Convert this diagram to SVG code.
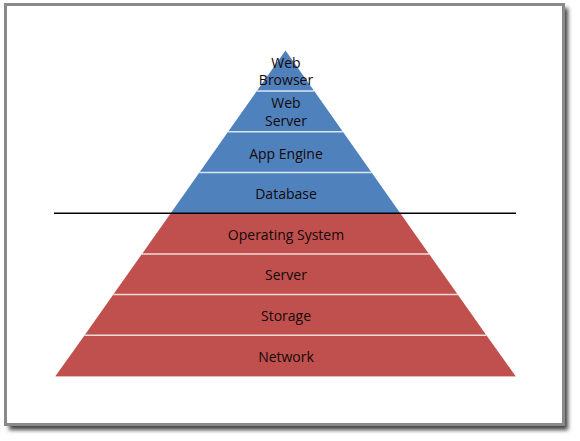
<svg xmlns="http://www.w3.org/2000/svg" width="580" height="441" viewBox="0 0 580 441">
  <style>
    .lbl { font-family: "Open Sans", "Liberation Sans", sans-serif; font-size: 14px; fill: #140808; text-anchor: middle; }
    .blue { fill: #4F81BD; }
    .red { fill: #C0504D; }
    .sep { stroke: #F2DCDB; stroke-width: 1.5; }
    .sepb { stroke: #DCE6F2; stroke-width: 1.5; }
  </style>
  <defs>
    <filter id="shadow" x="-5%" y="-5%" width="115%" height="115%">
      <feGaussianBlur stdDeviation="2"/>
    </filter>
  </defs>
  <rect x="0" y="0" width="580" height="441" fill="#ffffff"/>
  <g id="frame">
    <rect x="9" y="8" width="559" height="422" fill="#444" filter="url(#shadow)"/>
    <rect x="5.5" y="4.5" width="558" height="420" fill="#ffffff" stroke="#8a8a8a" stroke-width="3"/>
  </g>
  <g id="pyramid">
    <g id="web-browser">
      <polygon class="blue" points="285.5,50.4 314.2,91.1 256.8,91.1"/>
      <text class="lbl" x="286" y="67.5">Web</text>
      <text class="lbl" x="286" y="85">Browser</text>
    </g>
    <g id="web-server">
      <polygon class="blue" points="256.8,91.1 314.2,91.1 342.9,131.8 228.1,131.8"/>
      <text class="lbl" x="286" y="108">Web</text>
      <text class="lbl" x="286" y="125.5">Server</text>
    </g>
    <g id="app-engine">
      <polygon class="blue" points="228.1,131.8 342.9,131.8 371.6,172.5 199.4,172.5"/>
      <text class="lbl" x="286" y="158.5">App Engine</text>
    </g>
    <g id="database">
      <polygon class="blue" points="199.4,172.5 371.6,172.5 400.3,213.2 170.7,213.2"/>
      <text class="lbl" x="286" y="198.5">Database</text>
    </g>
    <g id="operating-system">
      <polygon class="red" points="170.7,213.2 400.3,213.2 429,253.9 142,253.9"/>
      <text class="lbl" x="286" y="239.5">Operating System</text>
    </g>
    <g id="server">
      <polygon class="red" points="142,253.9 429,253.9 457.7,294.6 113.3,294.6"/>
      <text class="lbl" x="286" y="280">Server</text>
    </g>
    <g id="storage">
      <polygon class="red" points="113.3,294.6 457.7,294.6 486.4,335.3 84.6,335.3"/>
      <text class="lbl" x="286" y="321">Storage</text>
    </g>
    <g id="network">
      <polygon class="red" points="84.6,335.3 486.4,335.3 515.5,376 55.5,376"/>
      <text class="lbl" x="286" y="361.5">Network</text>
    </g>
  </g>
  <g id="connectors">
    <line class="sepb" x1="256.8" y1="91.1" x2="314.2" y2="91.1"/>
    <line class="sepb" x1="228.1" y1="131.8" x2="342.9" y2="131.8"/>
    <line class="sepb" x1="199.4" y1="172.5" x2="371.6" y2="172.5"/>
    <line class="sep" x1="142" y1="253.9" x2="429" y2="253.9"/>
    <line class="sep" x1="113.3" y1="294.6" x2="457.7" y2="294.6"/>
    <line class="sep" x1="84.6" y1="335.3" x2="486.4" y2="335.3"/>
    <line x1="55.5" y1="376.5" x2="515.5" y2="376.5" stroke="#E6B9B8" stroke-width="1"/>
    <line x1="54" y1="213.2" x2="516" y2="213.2" stroke="#000" stroke-width="1.6"/>
  </g>
</svg>
